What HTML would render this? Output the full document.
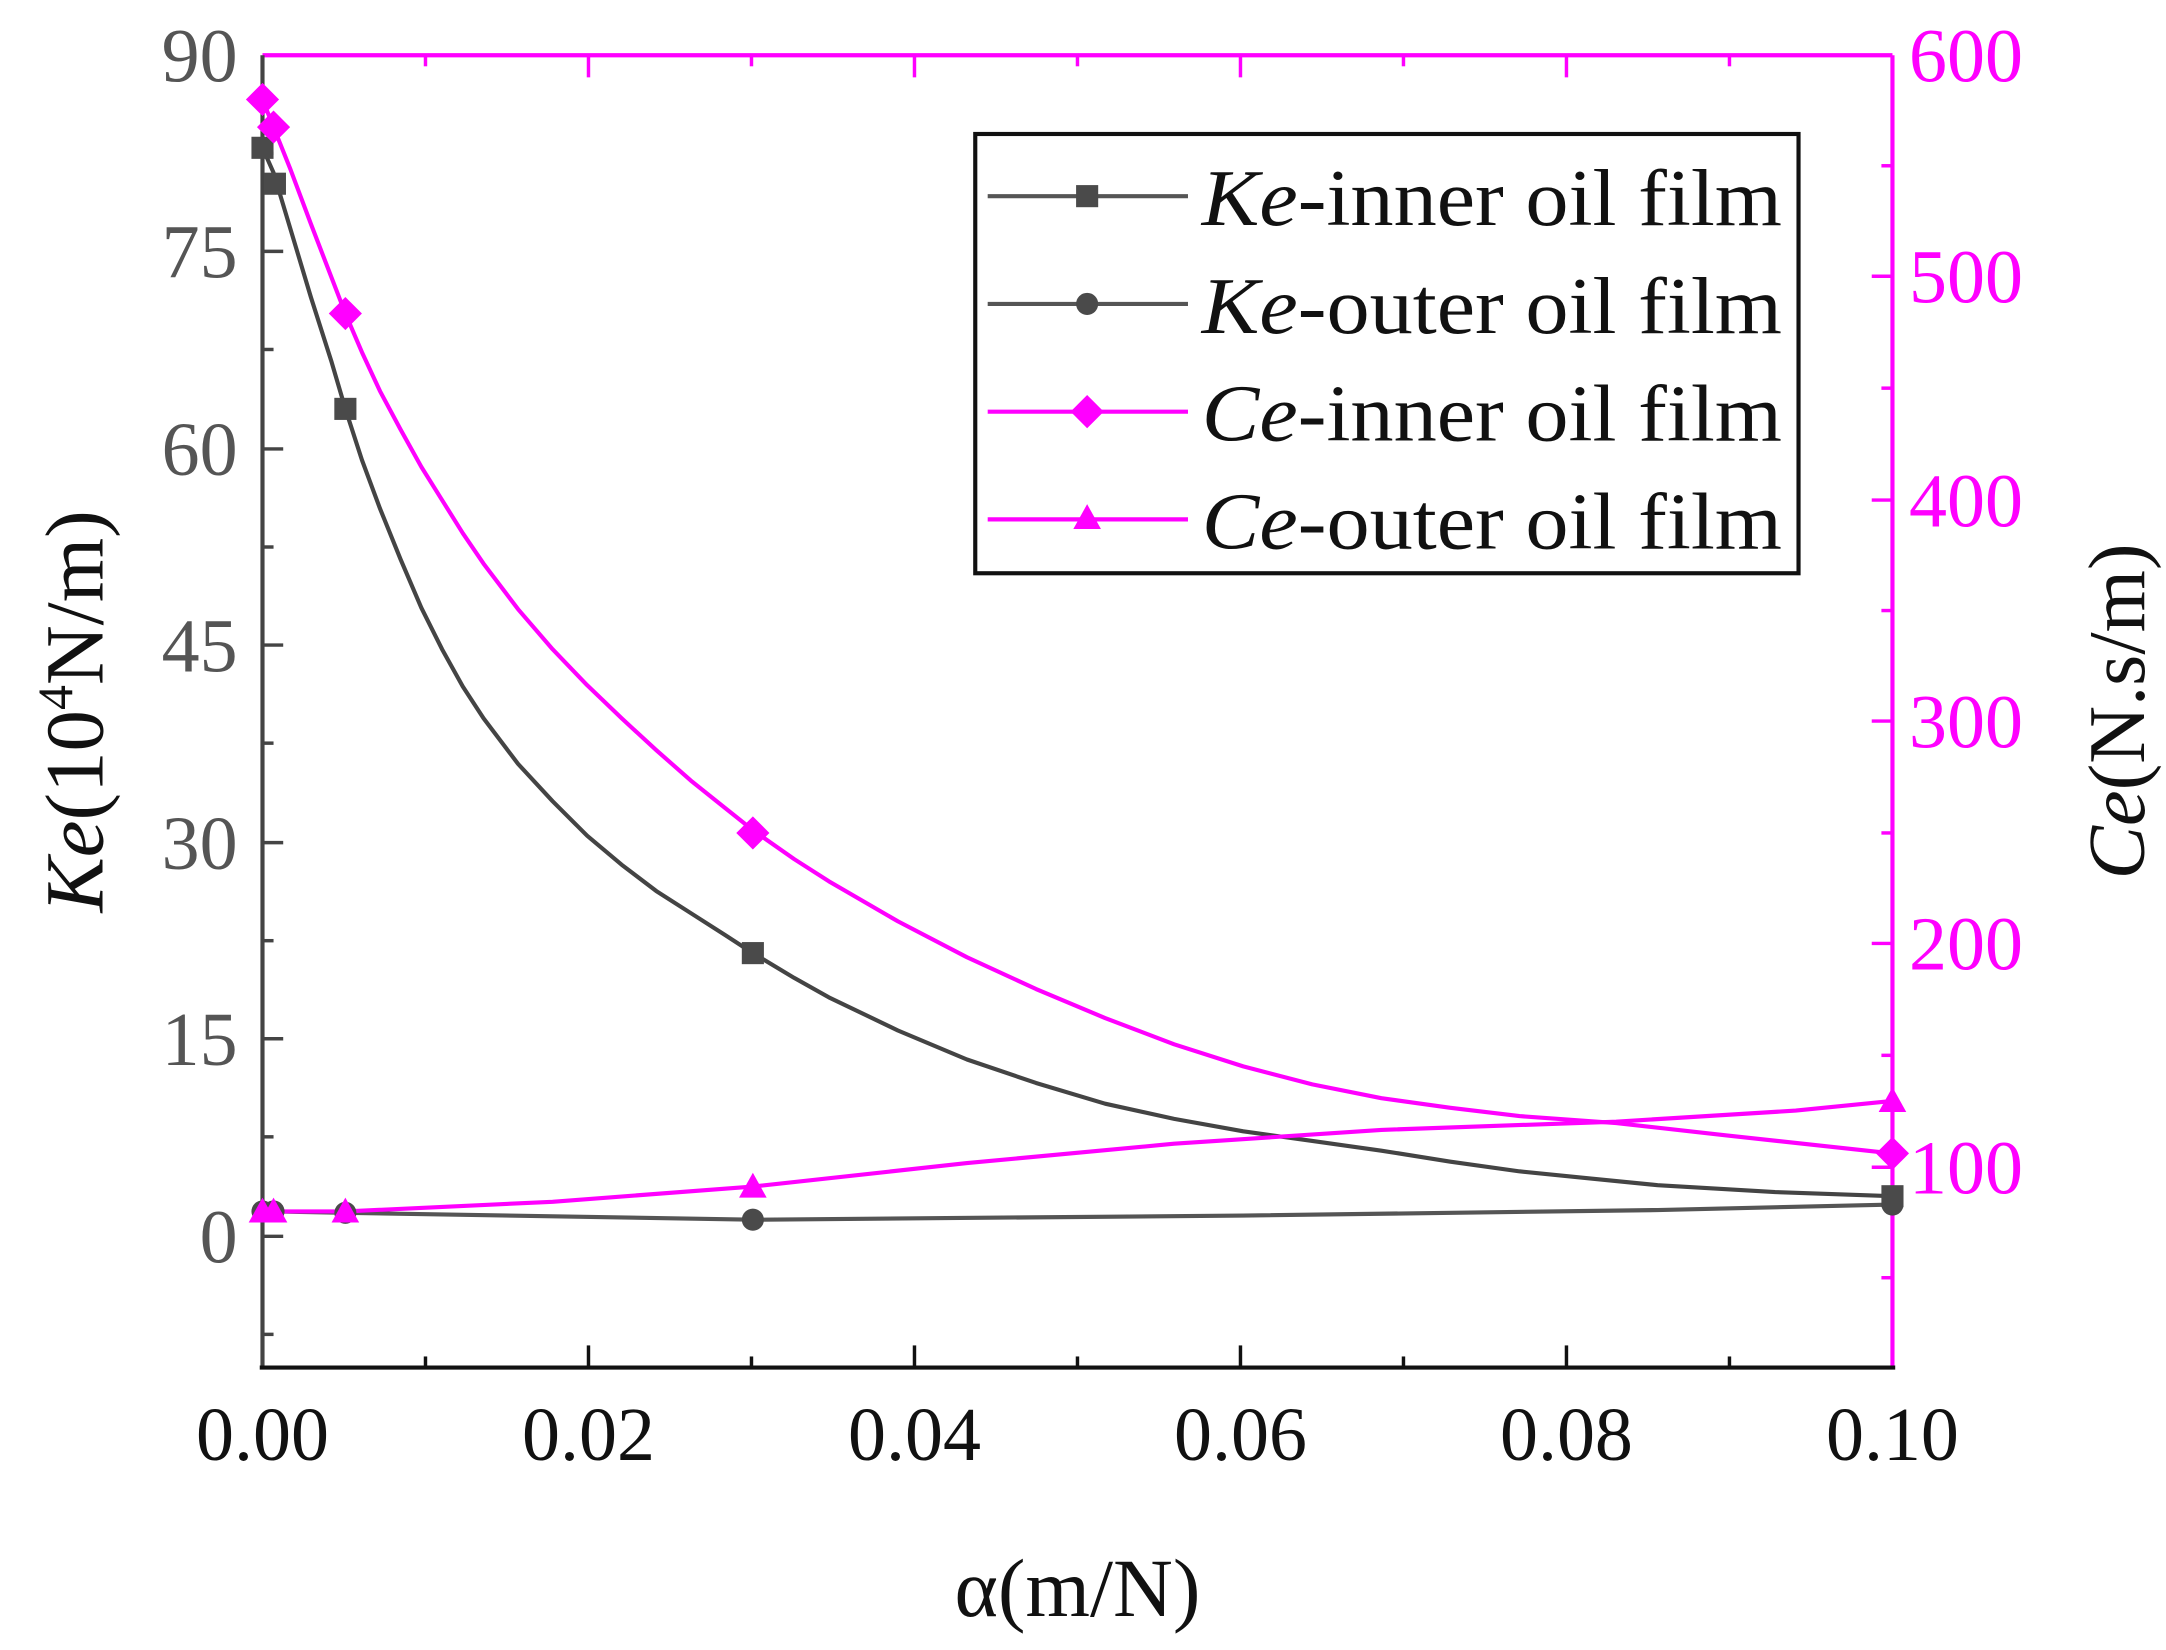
<!DOCTYPE html>
<html><head><meta charset="utf-8"><style>html,body{margin:0;padding:0;background:#fff}svg{display:block}</style></head>
<body>
<svg width="2166" height="1650" viewBox="0 0 1568 1194.5" xmlns="http://www.w3.org/2000/svg" font-family="Liberation Serif, serif">
<rect width="1568" height="1194.5" fill="#fff"/>
<line x1="190" y1="40" x2="1370" y2="40" stroke="#ff00ff" stroke-width="3"/>
<line x1="1370" y1="40" x2="1370" y2="990" stroke="#ff00ff" stroke-width="3"/>
<line x1="190" y1="40" x2="190" y2="990" stroke="#444" stroke-width="3"/>
<line x1="188" y1="990" x2="1372" y2="990" stroke="#111" stroke-width="3"/>
<g stroke="#ff00ff" stroke-width="2.5">
<line x1="308" y1="40" x2="308" y2="48"/><line x1="426" y1="40" x2="426" y2="56"/>
<line x1="544" y1="40" x2="544" y2="48"/><line x1="662" y1="40" x2="662" y2="56"/>
<line x1="780" y1="40" x2="780" y2="48"/><line x1="898" y1="40" x2="898" y2="56"/>
<line x1="1016" y1="40" x2="1016" y2="48"/><line x1="1134" y1="40" x2="1134" y2="56"/>
<line x1="1252" y1="40" x2="1252" y2="48"/>
</g>
<g stroke="#111" stroke-width="2.5">
<line x1="308" y1="990" x2="308" y2="982"/><line x1="426" y1="990" x2="426" y2="974"/>
<line x1="544" y1="990" x2="544" y2="982"/><line x1="662" y1="990" x2="662" y2="974"/>
<line x1="780" y1="990" x2="780" y2="982"/><line x1="898" y1="990" x2="898" y2="974"/>
<line x1="1016" y1="990" x2="1016" y2="982"/><line x1="1134" y1="990" x2="1134" y2="974"/>
<line x1="1252" y1="990" x2="1252" y2="982"/>
</g>
<g stroke="#444" stroke-width="2.5">
<line x1="190" y1="182" x2="205" y2="182"/><line x1="190" y1="325" x2="205" y2="325"/>
<line x1="190" y1="467" x2="205" y2="467"/><line x1="190" y1="610" x2="205" y2="610"/>
<line x1="190" y1="752" x2="205" y2="752"/><line x1="190" y1="895" x2="205" y2="895"/>
<line x1="190" y1="111" x2="198" y2="111"/><line x1="190" y1="253" x2="198" y2="253"/>
<line x1="190" y1="396" x2="198" y2="396"/><line x1="190" y1="538" x2="198" y2="538"/>
<line x1="190" y1="681" x2="198" y2="681"/><line x1="190" y1="823" x2="198" y2="823"/>
<line x1="190" y1="966" x2="198" y2="966"/>
</g>
<g stroke="#ff00ff" stroke-width="2.5">
<line x1="1370" y1="200" x2="1355" y2="200"/><line x1="1370" y1="362" x2="1355" y2="362"/>
<line x1="1370" y1="522" x2="1355" y2="522"/><line x1="1370" y1="683" x2="1355" y2="683"/>
<line x1="1370" y1="845" x2="1355" y2="845"/>
<line x1="1370" y1="120" x2="1362" y2="120"/><line x1="1370" y1="281" x2="1362" y2="281"/>
<line x1="1370" y1="442" x2="1362" y2="442"/><line x1="1370" y1="603" x2="1362" y2="603"/>
<line x1="1370" y1="764" x2="1362" y2="764"/><line x1="1370" y1="925" x2="1362" y2="925"/>
</g>
<g fill="#555" font-size="55" text-anchor="end">
<text x="172" y="59">90</text><text x="172" y="201">75</text><text x="172" y="344">60</text>
<text x="172" y="486">45</text><text x="172" y="629">30</text><text x="172" y="771">15</text><text x="172" y="914">0</text>
</g>
<g fill="#ff00ff" font-size="55">
<text x="1382" y="59">600</text><text x="1382" y="219">500</text><text x="1382" y="381">400</text>
<text x="1382" y="541">300</text><text x="1382" y="702">200</text><text x="1382" y="864">100</text>
</g>
<g fill="#111" font-size="55" text-anchor="middle">
<text x="190" y="1057">0.00</text><text x="426" y="1057">0.02</text><text x="662" y="1057">0.04</text>
<text x="898" y="1057">0.06</text><text x="1134" y="1057">0.08</text><text x="1370" y="1057">0.10</text>
</g>
<text x="780" y="1170" font-size="60" text-anchor="middle" fill="#111">α(m/N)</text>
<text transform="translate(74,515) rotate(-90)" font-size="60" text-anchor="middle" fill="#111"><tspan font-style="italic">Ke</tspan>(10<tspan font-size="36" dy="-22">4</tspan><tspan dy="22">N/m)</tspan></text>
<text transform="translate(1552,515) rotate(-90)" font-size="58" text-anchor="middle" fill="#111"><tspan font-style="italic">Ce</tspan>(N.s/m)</text>
<polyline fill="none" stroke="#444" stroke-width="3" stroke-linejoin="round" points="190,107 198,125 210,165 225,215 240,262 250,296 262,333 275,368 290,405 305,440 320,470 335,497 350,520 375,553 400,580 425,605 450,626 475,645 500,661 525,677 545,690 575,708 600,722 650,746 700,767 750,784 800,799 850,810 900,819 950,826 1000,833 1050,841 1100,848 1150,853 1200,858 1285,863 1370,866"/>
<polyline fill="none" stroke="#555" stroke-width="3" points="190,877 198,877 250,878 545,883 900,880 1200,876 1370,872"/>
<polyline fill="none" stroke="#ff00ff" stroke-width="3" stroke-linejoin="round" points="190,72 198,92 210,122 225,162 240,201 250,227 262,255 275,283 290,311 305,338 320,362 335,386 350,408 375,441 400,470 425,496 450,520 475,543 500,565 525,585 545,601 575,622 600,638 650,667 700,693 750,716 800,737 850,756 900,772 950,785 1000,795 1050,802 1100,808 1170,813 1250,822 1370,835"/>
<polyline fill="none" stroke="#ff00ff" stroke-width="3" stroke-linejoin="round" points="190,877 198,877 250,877 400,870 545,859 700,842 850,828 1000,818 1170,812 1300,804 1370,797"/>
<g fill="#4a4a4a">
<rect x="182" y="99" width="16" height="16"/><rect x="191" y="125" width="16" height="16"/>
<rect x="242" y="288" width="16" height="16"/><rect x="537" y="682" width="16" height="16"/>
<rect x="1362" y="858" width="16" height="16"/>
<circle cx="190" cy="877" r="8"/><circle cx="198" cy="877" r="8"/><circle cx="250" cy="878" r="8"/>
<circle cx="545" cy="883" r="8"/><circle cx="1370" cy="872" r="8"/>
</g>
<g fill="#ff00ff">
<polygon points="190,60 202,72 190,84 178,72"/><polygon points="198,80 210,92 198,104 186,92"/>
<polygon points="250,215 262,227 250,239 238,227"/><polygon points="545,591 557,603 545,615 533,603"/>
<polygon points="1370,823 1382,835 1370,847 1358,835"/>
<polygon points="190,867 200,885 180,885"/><polygon points="198,867 208,885 188,885"/>
<polygon points="250,867 260,885 240,885"/><polygon points="545,849 555,867 535,867"/>
<polygon points="1370,787 1380,805 1360,805"/>
</g>
<rect x="706" y="97" width="596" height="318" fill="#fff" stroke="#111" stroke-width="3"/>
<line x1="715" y1="142" x2="860" y2="142" stroke="#555" stroke-width="3"/>
<rect x="779" y="134" width="16" height="16" fill="#4a4a4a"/>
<line x1="715" y1="220" x2="860" y2="220" stroke="#555" stroke-width="3"/>
<circle cx="787" cy="220" r="8" fill="#4a4a4a"/>
<line x1="715" y1="298" x2="860" y2="298" stroke="#ff00ff" stroke-width="3"/>
<polygon points="787,286 799,298 787,310 775,298" fill="#ff00ff"/>
<line x1="715" y1="376" x2="860" y2="376" stroke="#ff00ff" stroke-width="3"/>
<polygon points="787,365 797,383 777,383" fill="#ff00ff"/>
<g font-size="58" fill="#111">
<text x="870" y="163" textLength="420" lengthAdjust="spacingAndGlyphs"><tspan font-style="italic">Ke</tspan>-inner oil film</text>
<text x="870" y="241" textLength="420" lengthAdjust="spacingAndGlyphs"><tspan font-style="italic">Ke</tspan>-outer oil film</text>
<text x="870" y="319" textLength="420" lengthAdjust="spacingAndGlyphs"><tspan font-style="italic">Ce</tspan>-inner oil film</text>
<text x="870" y="397" textLength="420" lengthAdjust="spacingAndGlyphs"><tspan font-style="italic">Ce</tspan>-outer oil film</text>
</g>
</svg>
</body></html>
